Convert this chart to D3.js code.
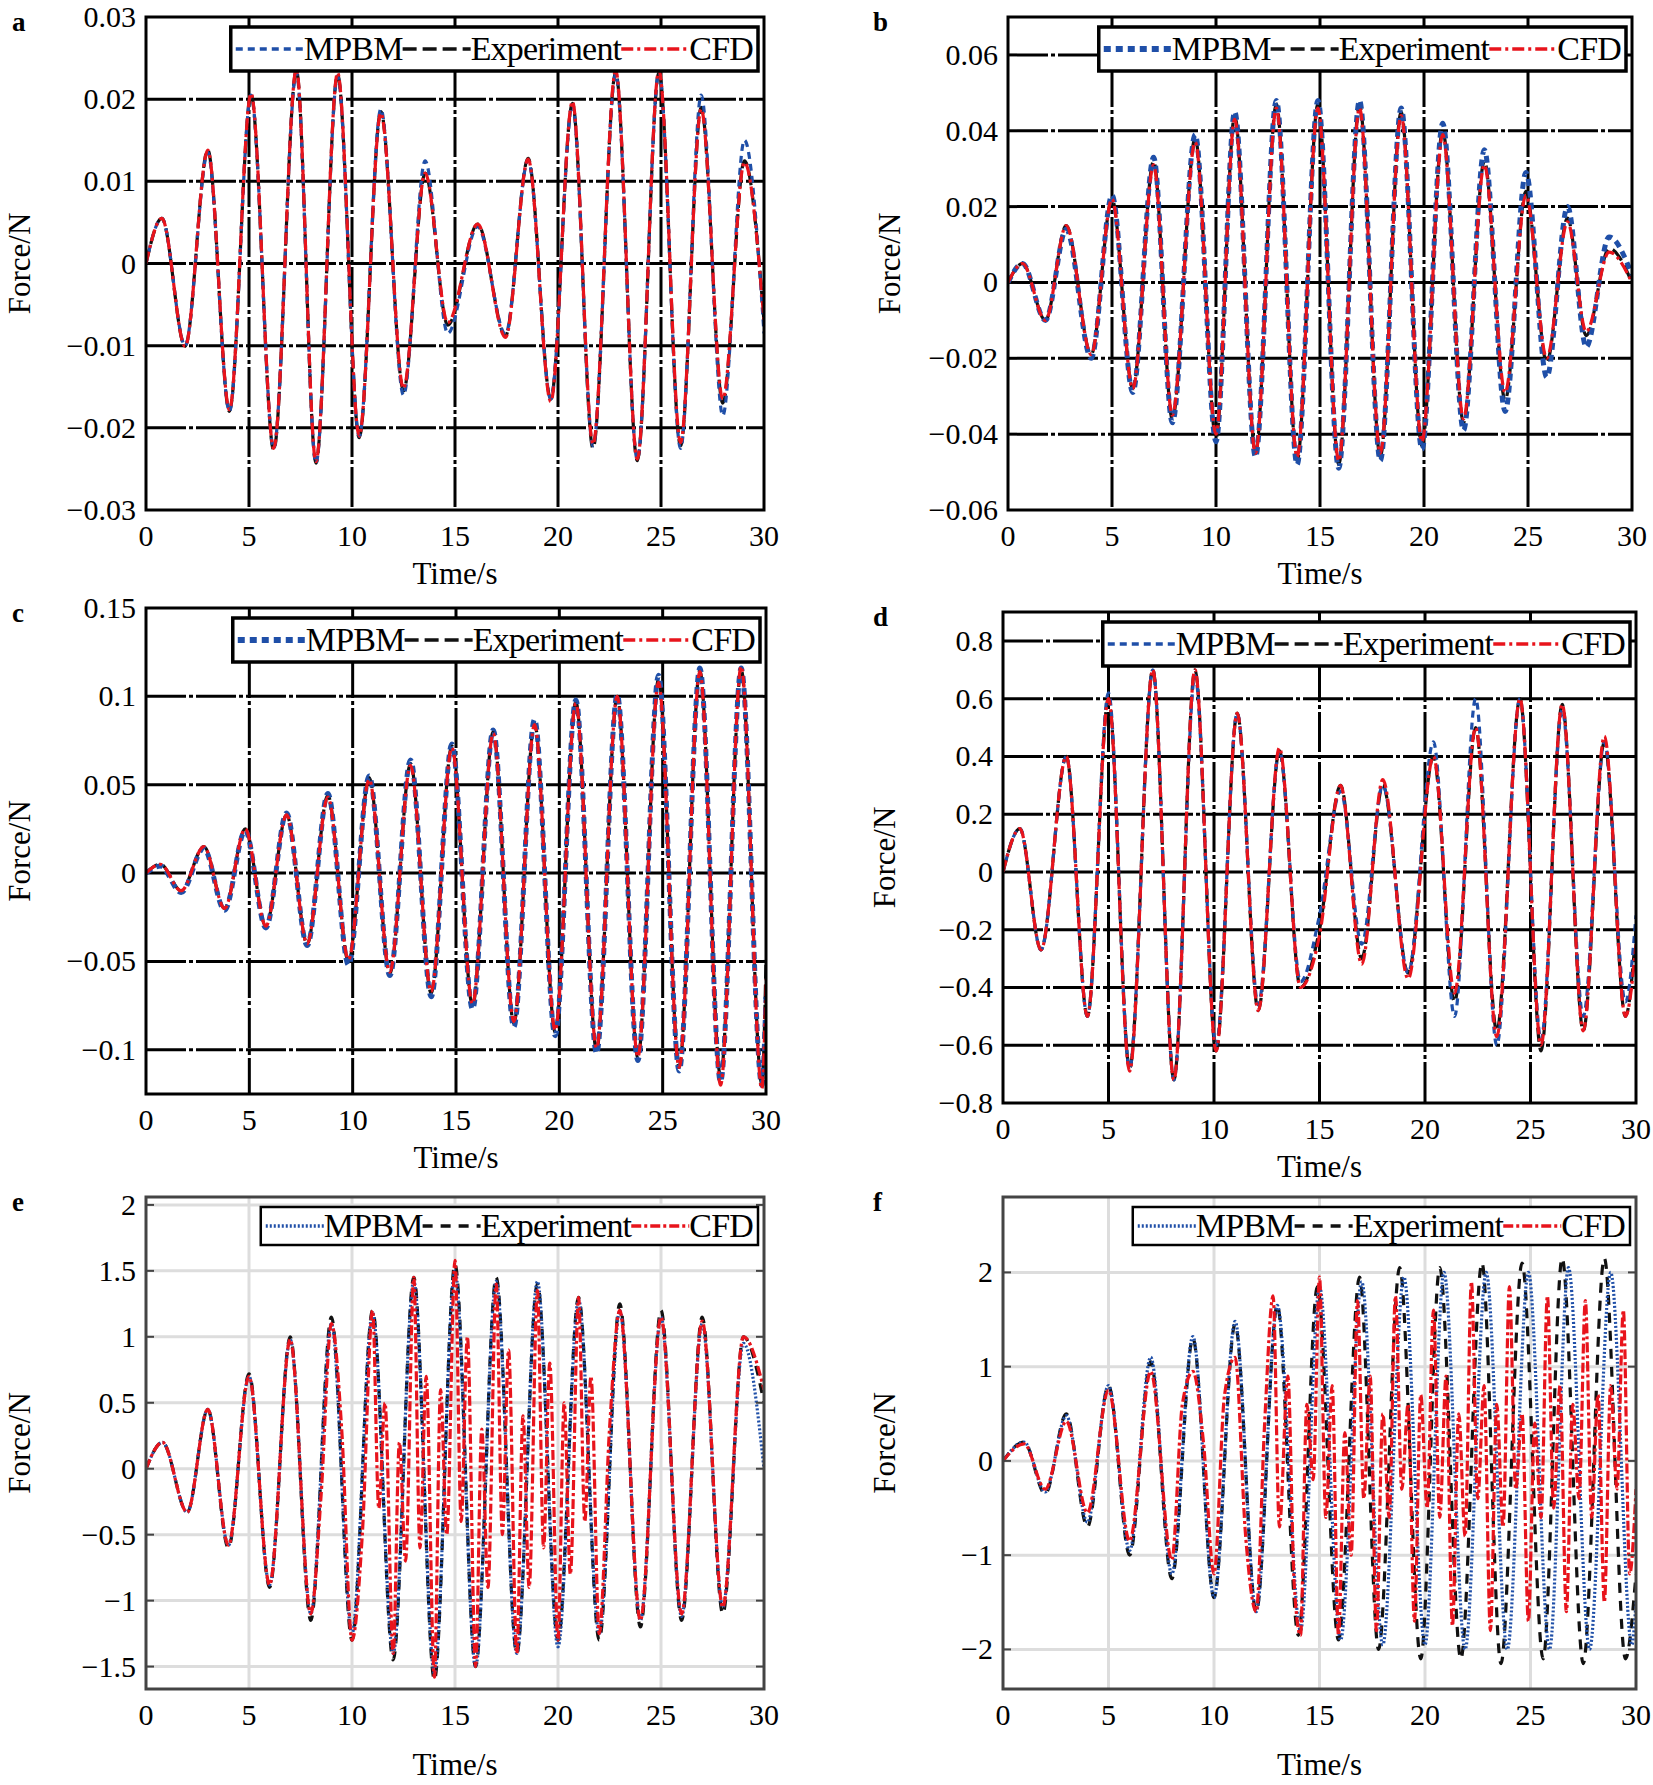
<!DOCTYPE html>
<html><head><meta charset="utf-8">
<script src="https://cdn.jsdelivr.net/npm/d3@7"></script>
<style>body{margin:0;background:#fff}svg{font-family:"Liberation Serif","Times New Roman",serif}</style>
</head><body><svg id="c" width="1653" height="1785"></svg>
<script>
// panel a
const aTime = [0,0.77,1.9,3.0,4.05,5.1,6.2,7.3,8.25,9.3,10.35,11.4,12.5,13.55,14.65,16.1,17.45,18.55,19.65,20.7,21.7,22.8,23.85,24.9,25.95,26.95,28.0,29.05,30];
const aExp  = [0,0.0055,-0.0101,0.0138,-0.018,0.0205,-0.0227,0.0235,-0.0243,0.023,-0.0212,0.0185,-0.0155,0.011,-0.0075,0.0048,-0.0088,0.0128,-0.0165,0.0195,-0.0225,0.0233,-0.024,0.0233,-0.0222,0.019,-0.017,0.0125,-0.007];
const aMpbm = [0,0.0055,-0.0100,0.0135,-0.018,0.0205,-0.0225,0.0232,-0.0243,0.0228,-0.021,0.0188,-0.016,0.0125,-0.0085,0.0045,-0.0086,0.0126,-0.0165,0.0193,-0.0222,0.023,-0.0238,0.0233,-0.0225,0.0205,-0.0185,0.015,-0.0085];
const aCfd  = [0,0.0055,-0.0101,0.0138,-0.0178,0.0207,-0.0225,0.0236,-0.0241,0.0232,-0.021,0.0183,-0.0152,0.011,-0.0072,0.0048,-0.009,0.0127,-0.0168,0.0197,-0.022,0.0235,-0.0238,0.0235,-0.0218,0.0188,-0.0165,0.0123,-0.007];
// panel b
const bTime = [0,0.7,1.8,2.8,4.0,5.0,6.0,7.0,7.9,9.0,10.0,10.9,11.9,12.9,13.9,14.9,15.9,16.9,17.9,18.9,19.9,20.9,21.9,22.9,23.9,24.9,25.9,26.9,27.8,28.9,30];
const bExp  = [0,0.005,-0.01,0.015,-0.019,0.022,-0.028,0.032,-0.036,0.038,-0.041,0.044,-0.045,0.047,-0.047,0.047,-0.048,0.047,-0.046,0.045,-0.043,0.04,-0.037,0.032,-0.031,0.024,-0.021,0.017,-0.014,0.009,0];
const bMpbm = [0,0.005,-0.01,0.014,-0.02,0.023,-0.029,0.033,-0.037,0.039,-0.042,0.045,-0.046,0.048,-0.048,0.048,-0.049,0.048,-0.047,0.046,-0.044,0.042,-0.039,0.035,-0.034,0.029,-0.025,0.02,-0.017,0.012,0.002];
const bCfd  = [0,0.005,-0.01,0.015,-0.019,0.022,-0.028,0.031,-0.035,0.037,-0.04,0.043,-0.045,0.046,-0.046,0.046,-0.047,0.046,-0.045,0.044,-0.042,0.039,-0.036,0.031,-0.029,0.023,-0.02,0.016,-0.013,0.008,0];
// panel c
const cTime = [0,0.7,1.7,2.8,3.8,4.8,5.8,6.8,7.8,8.8,9.8,10.8,11.8,12.8,13.8,14.8,15.8,16.8,17.8,18.8,19.8,20.8,21.8,22.8,23.8,24.8,25.8,26.8,27.8,28.8,29.8,30];
const cExp  = [0,0.005,-0.01,0.015,-0.02,0.025,-0.03,0.033,-0.04,0.044,-0.05,0.054,-0.057,0.062,-0.068,0.072,-0.075,0.08,-0.085,0.085,-0.09,0.097,-0.1,0.1,-0.105,0.11,-0.11,0.115,-0.115,0.115,-0.12,-0.05];
const cMpbm = [0,0.004,-0.011,0.014,-0.021,0.024,-0.031,0.034,-0.041,0.045,-0.052,0.055,-0.058,0.064,-0.07,0.073,-0.077,0.081,-0.087,0.087,-0.092,0.098,-0.102,0.101,-0.106,0.112,-0.112,0.116,-0.118,0.116,-0.12,-0.07];
const cCfd  = [0,0.005,-0.01,0.015,-0.02,0.025,-0.03,0.033,-0.04,0.043,-0.049,0.053,-0.056,0.061,-0.067,0.071,-0.074,0.079,-0.084,0.084,-0.089,0.096,-0.099,0.1,-0.104,0.108,-0.11,0.114,-0.12,0.117,-0.122,-0.06];
// panel d
const dTime = [0,0.8,1.8,3.0,4.0,5.0,6.0,7.1,8.1,9.1,10.1,11.1,12.1,13.1,14.1,15.0,16.0,17.0,18.0,19.2,20.4,21.4,22.4,23.4,24.5,25.5,26.5,27.5,28.5,29.5,30];
const dExp  = [0,0.15,-0.27,0.4,-0.5,0.6,-0.68,0.7,-0.72,0.7,-0.62,0.55,-0.48,0.42,-0.4,-0.2,0.3,-0.3,0.3,-0.35,0.4,-0.45,0.5,-0.55,0.6,-0.62,0.58,-0.55,0.45,-0.5,-0.2];
const dMpbm = [0,0.15,-0.27,0.4,-0.5,0.62,-0.68,0.7,-0.72,0.68,-0.6,0.55,-0.46,0.42,-0.38,-0.15,0.28,-0.25,0.3,-0.35,0.45,-0.5,0.6,-0.6,0.6,-0.58,0.56,-0.5,0.45,-0.45,-0.15];
const dCfd  = [0,0.15,-0.27,0.4,-0.5,0.6,-0.69,0.7,-0.72,0.7,-0.62,0.55,-0.48,0.43,-0.4,-0.22,0.3,-0.32,0.32,-0.37,0.4,-0.42,0.5,-0.57,0.6,-0.6,0.58,-0.55,0.47,-0.5,-0.25];
// panel e
const eTime = [0,0.8,2,3,4,5,6,7,8,9,10,11,12,13,14,15,16,17,18,19,20,21,22,23,24,25,26,27,28,29,30];
const eExp  = [0,0.2,-0.33,0.45,-0.6,0.72,-0.9,1.0,-1.15,1.15,-1.3,1.2,-1.45,1.45,-1.6,1.55,-1.5,1.45,-1.4,1.4,-1.3,1.3,-1.3,1.25,-1.2,1.2,-1.15,1.15,-1.1,1.0,0.5];
const eMpbm = [0,0.2,-0.33,0.45,-0.58,0.7,-0.88,0.98,-1.1,1.1,-1.25,1.18,-1.4,1.42,-1.55,1.5,-1.5,1.42,-1.4,1.42,-1.35,1.28,-1.25,1.2,-1.15,1.15,-1.12,1.1,-1.05,0.95,0];
const eCfdTime = [0,0.8,2,3,4,5,6,7,8,8.5,9,9.5,10,10.5,11,11.3,11.6,12,12.3,12.6,13,13.3,13.6,14,14.3,14.6,15,15.3,15.6,16,16.3,16.6,17,17.3,17.6,18,18.3,18.6,19,19.3,19.6,20,20.3,20.6,21,21.3,21.6,22,22.5,23,24,25,26,27,28,29,30];
const eCfd = [0,0.2,-0.33,0.45,-0.58,0.7,-0.88,0.98,-1.1,-0.2,1.1,0.3,-1.3,-0.5,1.2,-0.3,0.5,-1.4,0.2,-0.7,1.45,-0.6,0.7,-1.58,0.6,-0.5,1.58,-0.4,1.0,-1.5,0.3,-0.9,1.4,-0.5,0.9,-1.4,0.4,-0.9,1.35,-0.6,0.8,-1.3,0.5,-0.8,1.3,-0.4,0.7,-1.25,0.3,1.2,-1.15,1.15,-1.1,1.12,-1.05,1.0,0.6];
// panel f
const fTime = [0,1,2,3,4,5,6,7,8,9,10,11,12,13,14,14.9,15.9,16.9,17.8,18.8,19.8,20.7,21.7,22.7,23.6,24.6,25.6,26.5,27.5,28.5,29.5,30];
const fExp  = [0,0.2,-0.35,0.5,-0.7,0.8,-1.0,1.05,-1.25,1.3,-1.45,1.45,-1.6,1.65,-1.85,1.85,-1.9,1.95,-2.0,2.05,-2.1,2.05,-2.1,2.1,-2.15,2.1,-2.1,2.15,-2.15,2.15,-2.1,-1.2];
const fMpbmTime = [0,1,2,3,4,5,6,7,8,9,10,11,12,13,14.1,15.0,16.0,17.0,18.0,19.0,20.0,20.9,21.9,22.9,23.9,24.9,25.9,26.8,27.8,28.8,29.8,30];
const fMpbm = [0,0.2,-0.33,0.48,-0.65,0.8,-0.95,1.1,-1.2,1.32,-1.45,1.48,-1.6,1.65,-1.8,1.85,-1.9,1.9,-1.95,1.95,-1.95,2.0,-2.0,2.0,-2.0,2.0,-2.0,2.05,-2.0,2.0,-1.95,-1.5];
const fCfdTime = [0,1,2,3,4,5,6,7,8,8.5,9,9.5,10,10.5,11,11.5,12,12.4,12.8,13.1,13.5,13.8,14.1,14.4,14.7,15.0,15.3,15.6,15.9,16.2,16.5,16.8,17.1,17.4,17.7,18.0,18.3,18.6,18.9,19.2,19.5,19.8,20.1,20.4,20.7,21.0,21.3,21.6,21.9,22.2,22.5,22.8,23.1,23.4,23.7,24.0,24.3,24.6,24.9,25.2,25.5,25.8,26.1,26.4,26.7,27.0,27.3,27.6,27.9,28.2,28.5,28.8,29.1,29.4,29.7,30];
const fCfd = [0,0.18,-0.3,0.42,-0.55,0.75,-0.85,0.95,-1.05,0.6,0.95,0.2,-1.2,0.7,1.1,-0.8,-1.6,0.4,1.75,-0.7,0.9,-1.3,-1.85,0.6,-0.2,1.95,-0.6,0.8,-1.85,0.3,-1.0,1.7,-0.4,0.9,-1.8,0.5,-0.6,1.75,-0.3,0.6,-1.7,0.7,-0.5,1.6,-0.6,0.9,-1.75,0.5,-0.8,1.9,-0.4,0.8,-1.8,0.6,-0.7,1.85,-0.3,0.5,-1.7,0.4,-0.6,1.75,-0.5,0.8,-1.6,0.6,-0.4,1.7,-0.6,0.7,-1.5,0.8,-0.3,1.6,-1.2,-0.3];

const seriesNames = ["MPBM","Experiment","CFD"];
const fmt = v => (v < 0 ? "\u2212" : "") + String(Math.abs(+v.toFixed(3)));

const panels = [
  {id:"a", L:146, R:764, T:17, B:510, y:[-0.03,0.03], ticks:[-0.03,-0.02,-0.01,0,0.01,0.02,0.03], style:"old",
   s:[[aTime,aMpbm],[aTime,aExp],[aTime,aCfd]]},
  {id:"b", L:1008, R:1632, T:17, B:510, y:[-0.06,0.07], ticks:[-0.06,-0.04,-0.02,0,0.02,0.04,0.06], style:"old",
   s:[[bTime,bMpbm],[bTime,bExp],[bTime,bCfd]], thickBlue:true},
  {id:"c", L:146, R:766, T:608, B:1094, y:[-0.125,0.15], ticks:[-0.1,-0.05,0,0.05,0.1,0.15], style:"old",
   s:[[cTime,cMpbm],[cTime,cExp],[cTime,cCfd]], thickBlue:true},
  {id:"d", L:1003, R:1636, T:612, B:1103, y:[-0.8,0.9], ticks:[-0.8,-0.6,-0.4,-0.2,0,0.2,0.4,0.6,0.8], style:"old",
   s:[[dTime,dMpbm],[dTime,dExp],[dTime,dCfd]]},
  {id:"e", L:146, R:764, T:1197, B:1689, y:[-1.67,2.06], ticks:[-1.5,-1,-0.5,0,0.5,1,1.5,2], style:"new",
   s:[[eTime,eMpbm],[eTime,eExp],[eCfdTime,eCfd]]},
  {id:"f", L:1003, R:1636, T:1197, B:1689, y:[-2.42,2.8], ticks:[-2,-1,0,1,2], style:"new",
   s:[[fMpbmTime,fMpbm],[fTime,fExp],[fCfdTime,fCfd]]}
];

const svg = d3.select("#c");
const colors = ["#1f4fa8","#111","#e8141c"];

panels.forEach(p => {
  const g = svg.append("g");
  const x = d3.scaleLinear().domain([0,30]).range([p.L,p.R]);
  const y = d3.scaleLinear().domain(p.y).range([p.B,p.T]);
  const old = p.style === "old";
  const xt = [0,5,10,15,20,25,30];
  const cid = "clip" + p.id;
  svg.append("clipPath").attr("id",cid).append("rect")
    .attr("x",p.L).attr("y",p.T).attr("width",p.R-p.L).attr("height",p.B-p.T);

  // grid
  const grid = g.append("g");
  xt.slice(1,-1).forEach(t => grid.append("line").attr("x1",x(t)).attr("x2",x(t)).attr("y1",p.T).attr("y2",p.B));
  p.ticks.filter(t => y(t) > p.T + 2 && y(t) < p.B - 2).forEach(t =>
    grid.append("line").attr("x1",p.L).attr("x2",p.R).attr("y1",y(t)).attr("y2",y(t)));
  if (old) grid.selectAll("line").attr("stroke","#000").attr("stroke-width",3).attr("stroke-dasharray","40,3,4,3");
  else grid.selectAll("line").attr("stroke","#ddd").attr("stroke-width",3);

  // lines
  const lg = g.append("g").attr("clip-path",`url(#${cid})`);
  const dashes = old ? ["7,5","14,6","12,4,3,4"] : ["2,2","10,8","10,3,3,3"];
  [1,0,2].forEach(i => {
    const [tt,vv] = p.s[i];
    const line = d3.line().curve(d3.curveMonotoneX).x((d,k)=>x(tt[k])).y(d=>y(d));
    lg.append("path").attr("d",line(vv)).attr("fill","none").attr("stroke",colors[i])
      .attr("stroke-width", i===0 && p.thickBlue ? 5 : 3.2).attr("stroke-dasharray",dashes[i]);
  });

  // frame
  g.append("rect").attr("x",p.L).attr("y",p.T).attr("width",p.R-p.L).attr("height",p.B-p.T)
    .attr("fill","none").attr("stroke", old ? "#000" : "#444").attr("stroke-width",3);

  // tick labels
  const fs = 30;
  xt.forEach(t => g.append("text").attr("x",x(t)).attr("y",p.B+36).attr("text-anchor","middle")
    .attr("font-size",fs).text(t));
  p.ticks.forEach(t => g.append("text").attr("x",p.L-10).attr("y",y(t)+10).attr("text-anchor","end")
    .attr("font-size",fs).text(fmt(t)));
  if (!old) p.ticks.forEach(t => {
    g.append("line").attr("x1",p.L).attr("x2",p.L+8).attr("y1",y(t)).attr("y2",y(t)).attr("stroke","#444").attr("stroke-width",2);
    g.append("line").attr("x1",p.R-8).attr("x2",p.R).attr("y1",y(t)).attr("y2",y(t)).attr("stroke","#444").attr("stroke-width",2);
  });

  g.append("text").attr("x",(p.L+p.R)/2).attr("y", old ? p.B+74 : p.B+86).attr("text-anchor","middle")
    .attr("font-size",31).text("Time/s");
  const left = (p.id==="a"||p.id==="c"||p.id==="e");
  const yl = left ? 30 : p.L-108;
  g.append("text").attr("transform",`translate(${yl},${(p.T+p.B)/2}) rotate(-90)`).attr("text-anchor","middle")
    .attr("font-size",31).text("Force/N");
  g.append("text").attr("x", left ? 12 : 873).attr("y", p.T+14)
    .attr("font-size",27).attr("font-weight","bold").text(p.id);

  // legend: items packed tightly, as in the original
  const lh = old ? 44 : 38, ly = p.T + 10;
  const leg = g.append("g");
  const box = leg.append("rect").attr("y",ly).attr("height",lh).attr("fill","#fff")
    .attr("stroke","#000").attr("stroke-width", old ? 3.5 : 2.5);
  const segW = old ? 68 : 58;
  let cx = 0;
  [0,1,2].forEach(i => {
    leg.append("line").attr("x1",cx).attr("x2",cx+segW).attr("y1",ly+lh/2).attr("y2",ly+lh/2)
      .attr("stroke",colors[i]).attr("stroke-width", i===0 && p.thickBlue ? 6 : 3.5).attr("stroke-dasharray",dashes[i]);
    const tx = leg.append("text").attr("x",cx+segW).attr("y",ly+lh/2+11).attr("font-size",34)
      .attr("letter-spacing",-0.8).text(seriesNames[i]);
    cx += segW + tx.node().getComputedTextLength();
  });
  const lw = cx + 10, lx = p.R - lw - 6;
  leg.selectAll("line,text").attr("transform",`translate(${lx+5},0)`);
  box.attr("x",lx).attr("width",lw);
});
</script></body></html>
